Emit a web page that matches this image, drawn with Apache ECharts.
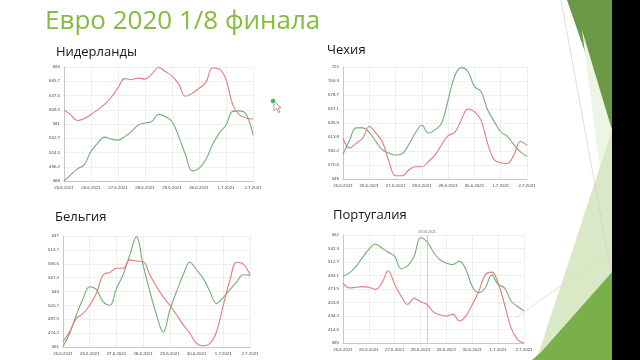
<!DOCTYPE html>
<html><head><meta charset="utf-8">
<script src="https://cdn.jsdelivr.net/npm/echarts@6/dist/echarts.min.js"></script>
<style>html,body{margin:0;padding:0;background:#fff}#c{width:640px;height:360px}</style>
</head><body><div id="c"></div>
<script>
const dates = ['25.6.2021','26.6.2021','27.6.2021','28.6.2021','29.6.2021','30.6.2021','1.7.2021','2.7.2021'];
const hours = ['00:00','06:00','12:00','18:00'];

const titleText = 'Евро 2020 1/8 финала';
const chartNames = ['Нидерланды','Чехия','Бельгия','Португалия'];

const nlTicks = ['468','496.2','524.5','552.7','581','609.2','637.5','665.7','694'];
const czTicks = ['549','570.6','592.2','613.8','635.5','657.1','678.7','700.3','722'];
const beTicks = ['451','474.2','497.5','520.7','544','567.2','590.5','613.7','637'];
const ptTicks = ['395','414.6','434.2','453.8','473.5','493.1','512.7','532.3','552'];

const nlRed   = [609,599,588,592,600,609,620,634,653,671,669,672,670,680,693,685,676,660,636,642,652,663,692,690,669,619,599,593,591];
const nlGreen = [468,480,492,500,527,543,555,551,549,556,566,579,583,586,600,596,586,556,520,488,493,510,540,563,579,606,607,600,559];
const czRed   = [612,597,604,612,630,620,606,576,554,554,563,568,568,576,586,602,616,621,640,657,653,640,604,579,574,573,586,607,601];
const czGreen = [587,609,628,628,621,607,594,589,586,588,602,620,632,620,625,635,671,708,721,715,692,684,656,638,622,615,602,591,584];
const beRed   = [460,477,499,507,521,541,572,576,583,583,597,595,594,572,552,535,521,505,488,474,457,453,457,477,521,563,593,590,572];
const beGreen = [452,474,505,532,552,547,527,521,549,572,605,636,588,544,505,476,513,544,572,593,580,566,544,524,534,547,560,572,571];
const ptRed   = [482,475,476,477,476,473,482,500,480,463,451,460,455,451,440,436,434,437,427,434,451,470,494,498,482,451,417,400,395];
const ptGreen = [492,497,506,519,531,539,533,527,521,503,507,521,548,542,527,516,511,509,514,502,477,468,475,494,480,475,456,448,442];

const categories = [];
dates.forEach((d, i) => {
  hours.forEach((h, j) => {
    if (i === dates.length - 1 && j > 0) return;
    categories.push(j === 0 ? d : d + ' ' + h);
  });
});

const RED = '#e27d7d', GREEN = '#72b072';
const grids = [
  {left: 64, top: 67, width: 189, height: 114},
  {left: 343, top: 67, width: 184, height: 112},
  {left: 63, top: 236, width: 187, height: 111},
  {left: 343, top: 235, width: 181, height: 108}
];
const sets = [
  {red: nlRed, green: nlGreen, ticks: nlTicks},
  {red: czRed, green: czGreen, ticks: czTicks},
  {red: beRed, green: beGreen, ticks: beTicks},
  {red: ptRed, green: ptGreen, ticks: ptTicks}
];
const labelFont = {fontSize: 4.4, color: '#444', fontFamily: 'Liberation Sans'};
const xAxis = [], yAxis = [], series = [];
sets.forEach((s, i) => {
  const vals = s.ticks.map(Number);
  xAxis.push({
    type: 'category', gridIndex: i, data: categories, boundaryGap: false,
    axisLine: {lineStyle: {color: '#bdbdbd', width: 0.8}},
    axisTick: {show: false},
    axisLabel: Object.assign({interval: 3, margin: 5}, labelFont),
    splitLine: {show: true, interval: 3, lineStyle: {color: '#ebebeb', width: 0.8}}
  });
  yAxis.push({
    type: 'value', gridIndex: i, min: vals[0], max: vals[vals.length - 1],
    axisLine: {show: true, lineStyle: {color: '#bdbdbd', width: 0.8}},
    axisTick: {show: false},
    splitLine: {show: false},
    axisLabel: Object.assign({
      margin: 4,
      customValues: vals,
      formatter: v => {
        let best = 0;
        vals.forEach((t, k) => { if (Math.abs(t - v) < Math.abs(vals[best] - v)) best = k; });
        return s.ticks[best];
      }
    }, labelFont)
  });
  yAxis.push({
    type: 'value', gridIndex: i, min: 0, max: 8, interval: 1, position: 'right',
    axisLine: {show: false}, axisTick: {show: false}, axisLabel: {show: false},
    splitLine: {show: true, lineStyle: {color: '#ebebeb', width: 0.8}}
  });
  series.push({
    type: 'line', xAxisIndex: i, yAxisIndex: i * 2, data: s.green, smooth: 0.4,
    symbol: 'none', lineStyle: {color: GREEN, width: 1.1}, z: 3,
    markLine: i === 3 ? {
      silent: true, symbol: 'none',
      lineStyle: {color: '#b0b0b0', width: 0.6, type: 'solid'},
      label: {show: true, position: 'end', formatter: '28.06.2021', fontSize: 3.5, color: '#777', distance: 1},
      data: [{xAxis: 13}]
    } : undefined
  });
  series.push({
    type: 'line', xAxisIndex: i, yAxisIndex: i * 2, data: s.red, smooth: 0.4,
    symbol: 'none', lineStyle: {color: RED, width: 1.1}, z: 4
  });
});

const graphic = [
  {type: 'polygon', shape: {points: [[567,0],[612,0],[612,130]]}, style: {fill: '#6a9a46'}, z: 1},
  {type: 'polygon', shape: {points: [[582,30],[612,130],[600,170]]}, style: {fill: '#eef5e4'}, z: 1},
  {type: 'polygon', shape: {points: [[612,130],[612,272],[538,355]]}, style: {fill: '#d9e9c6'}, z: 1},
  {type: 'polygon', shape: {points: [[612,272],[612,360],[532,360],[541,352]]}, style: {fill: '#79b04a'}, z: 2},
  {type: 'polyline', shape: {points: [[561,0],[611,272]]}, style: {stroke: '#cfcfcf', lineWidth: 0.7}, z: 2},
  {type: 'polyline', shape: {points: [[515,318],[612,250]]}, style: {stroke: '#d6d6d6', lineWidth: 0.7}, z: 2},
  {type: 'rect', shape: {x: 612, y: 0, width: 28, height: 360}, style: {fill: '#000'}, z: 5},
  {type: 'text', style: {text: titleText, x: 45, y: 22, font: '26px "Open Sans"', fill: '#84bb40', textAlign: 'left', textVerticalAlign: 'middle'}, z: 5},
  {type: 'text', style: {text: chartNames[0], x: 56, y: 52, font: '13px "Open Sans"', fill: '#151515', textVerticalAlign: 'middle'}, z: 5},
  {type: 'text', style: {text: chartNames[1], x: 327, y: 50, font: '13px "Open Sans"', fill: '#151515', textVerticalAlign: 'middle'}, z: 5},
  {type: 'text', style: {text: chartNames[2], x: 55, y: 217, font: '13px "Open Sans"', fill: '#151515', textVerticalAlign: 'middle'}, z: 5},
  {type: 'text', style: {text: chartNames[3], x: 333, y: 215, font: '13px "Open Sans"', fill: '#151515', textVerticalAlign: 'middle'}, z: 5},
  {type: 'circle', shape: {cx: 273, cy: 101, r: 2.3}, style: {fill: '#2ecc40'}, z: 6},
  {type: 'polygon', shape: {points: [[274,101],[274,111],[276.5,108.5],[278.5,112.5],[280,111.8],[278,108],[281,107.8]]}, style: {fill: '#fff', stroke: '#666', lineWidth: 0.6}, z: 6}
];

const chart = echarts.init(document.getElementById('c'), null, {renderer: 'canvas'});
chart.setOption({
  animation: false,
  backgroundColor: '#fff',
  grid: grids,
  xAxis, yAxis, series, graphic
});
</script></body></html>
